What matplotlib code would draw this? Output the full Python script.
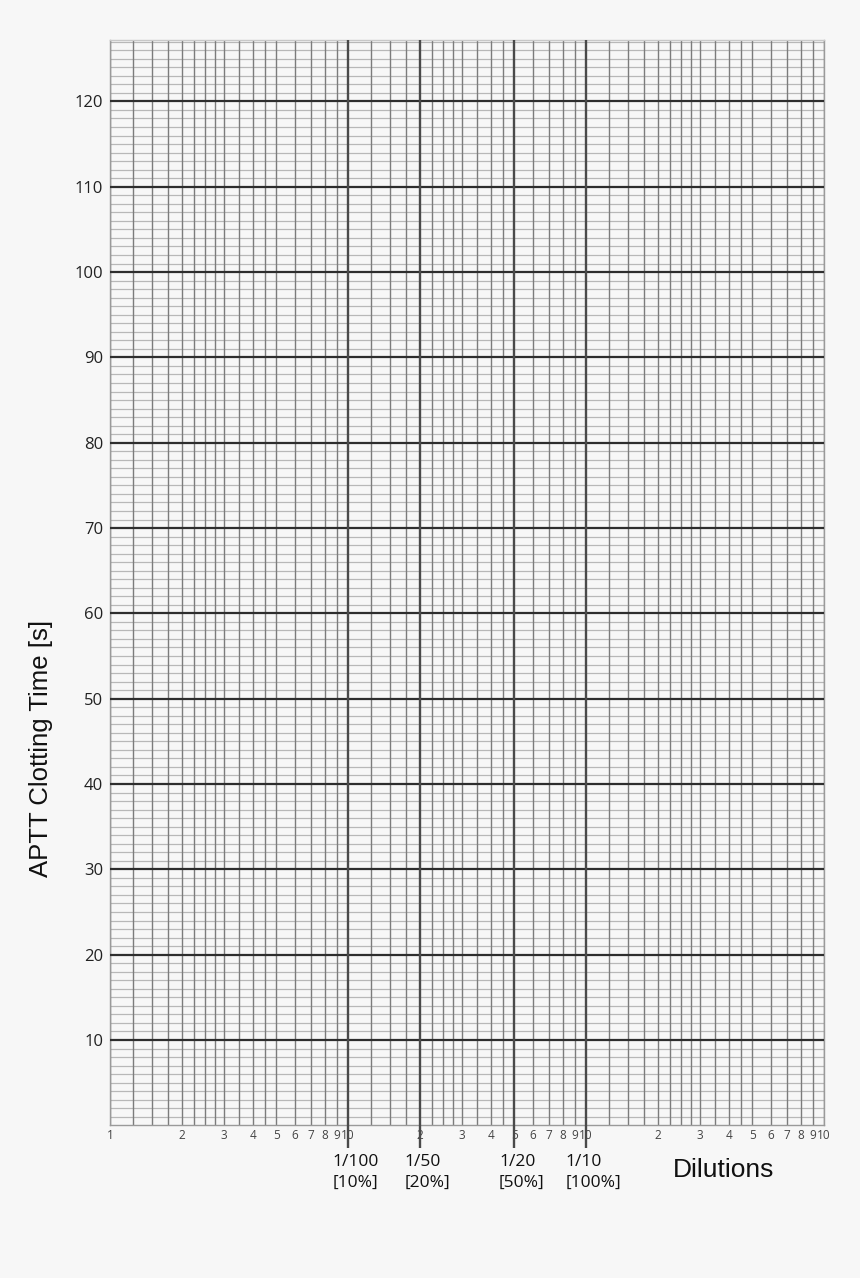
import matplotlib
matplotlib.use("Agg")
import matplotlib.pyplot as plt
import numpy as np

# ---- data / labels ----
decades = [1, 10, 100]
grid_mantissas = [1, 1.25, 1.5, 1.75, 2, 2.25, 2.5, 2.75, 3, 3.5, 4, 4.5, 5, 6, 7, 8, 9]
label_mantissas = [1, 2, 3, 4, 5, 6, 7, 8, 9]
dilution_x = [10, 20, 50, 100]
dilution_labels = ["1/100\n[10%]", "1/50\n[20%]", "1/20\n[50%]", "1/10\n[100%]"]
dark_vlines = [10, 20, 50, 100]
y_major = list(range(10, 130, 10))
y_minor = list(range(1, 128))
x_min, x_max = 1, 1000
y_min, y_max = 0, 127.2

bg = "#f7f7f7"
fig = plt.figure(figsize=(8.6, 12.78), dpi=100, facecolor=bg)
ax = fig.add_axes([110/860, 1 - 1125.3/1278, 714/860, (1125.3-40)/1278])
ax.set_facecolor(bg)
ax.set_xscale("log")
ax.set_xlim(x_min, x_max)
ax.set_ylim(y_min, y_max)

# horizontal minor lines
for y in y_minor:
    if y % 10 != 0:
        ax.axhline(y, color="#b8b8b8", lw=0.9, zorder=1)
# vertical minor lines
vx = [d * m for d in decades for m in grid_mantissas] + [x_max]
for x in vx:
    if x in dark_vlines:
        continue
    ax.axvline(x, color="#7c7c7c", lw=1.0, zorder=2)
# horizontal major lines
for y in y_major:
    ax.axhline(y, color="#2e2e2e", lw=1.6, zorder=3)
# dark verticals
for x in dark_vlines:
    ax.axvline(x, color="#4a4a4a", lw=1.7, zorder=4)

# dilution ticks below axis
ax.vlines(dilution_x, -0.021, 0, transform=ax.get_xaxis_transform(),
          color="#4a4a4a", lw=1.7, clip_on=False, zorder=5)

for s in ax.spines.values():
    s.set_color("#9a9a9a")
    s.set_linewidth(1.0)
ax.spines["top"].set_color("#c8c8c8")

# x tick labels
xt = [d * m for d in decades for m in label_mantissas] + [x_max]
xl = []
for x in xt:
    if x == 1:
        xl.append("1")
    elif x in (10, 100, 1000):
        xl.append("10")
    else:
        xl.append(str(int(round(x / 10 ** np.floor(np.log10(x) + 1e-9)))))
ax.set_xticks(xt)
ax.set_xticklabels(xl, fontsize=8.5, color="#444444", family="Open Sans")
ax.xaxis.set_minor_locator(matplotlib.ticker.NullLocator())
ax.tick_params(axis="x", length=0, pad=3)

ax.set_yticks(y_major)
ax.set_yticklabels([str(v) for v in y_major], fontsize=12, color="#222222", family="Open Sans")
ax.tick_params(axis="y", length=0, pad=5)

fig.text(41/860, 1 - 748/1278, "APTT Clotting Time [s]", rotation=90, fontsize=18.5,
         family="Liberation Sans", color="#111111", ha="center", va="center")

for x, lab in zip(dilution_x, dilution_labels):
    ax.annotate(lab, xy=(x, 0), xycoords=("data", "axes fraction"),
                xytext=(5.4, -21), textcoords="offset points",
                ha="center", va="top", ma="left", fontsize=12.5,
                family="Open Sans", color="#111111", linespacing=1.4,
                annotation_clip=False)

fig.text(724/860, 1 - 1170/1278, "Dilutions", fontsize=19, family="Liberation Sans",
         ha="center", va="center", color="#111111")

fig.savefig("out.png", dpi=100, facecolor=bg)
